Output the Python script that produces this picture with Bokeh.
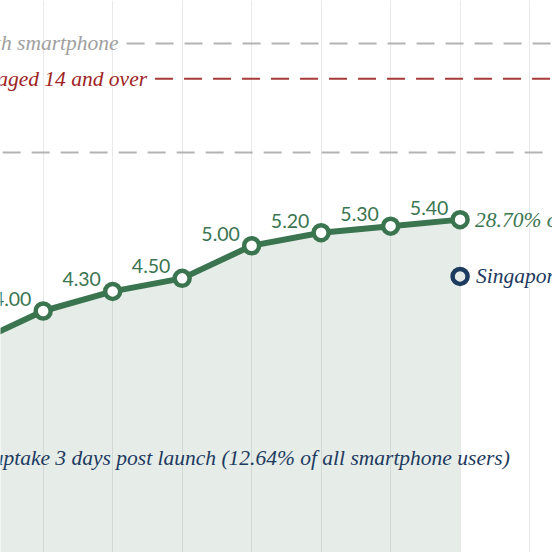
from bokeh.plotting import figure
from bokeh.models import Range1d, FixedTicker, Label
from bokeh.core.properties import value
from bokeh.embed import file_html
from bokeh.resources import INLINE

# data
idx = [0, 1, 2, 3, 4, 5, 6, 7]
users = [3.50, 4.00, 4.30, 4.50, 5.00, 5.20, 5.30, 5.40]
user_labels = ["3.50", "4.00", "4.30", "4.50", "5.00", "5.20", "5.30", "5.40"]

ref_names = ["Population with smartphone", "Residents aged 14 and over", ""]
ref_values = [8.10, 7.56, 6.43]
ref_start = [2.20, 2.61, 0.0]

singapore_value = 4.53
end_note = "28.70% of population"
singapore_note = "Singapore residents"
uptake_note = "TraceTogether uptake 3 days post launch (12.64% of all smartphone users)"

GREEN = "#3a7550"
NAVY = "#1d3a60"
RED = "#9e2424"
GREY = "#b3b3b3"
SERIF = "Liberation Serif"
SERIF_SIZE = "21.5px"

p = figure(width=552, height=552,
           x_range=Range1d(0.386, 8.330),
           y_range=Range1d(0.299, 8.758),
           output_backend="svg",
           toolbar_location=None,
           min_border=0)
p.xaxis.visible = False
p.yaxis.visible = False
p.ygrid.visible = False
p.xgrid.ticker = FixedTicker(ticks=list(range(0, 10)))
p.xgrid.grid_line_color = "#e9e9e9"
p.outline_line_color = None
p.background_fill_color = "white"

#reference lines
p.segment(x0=ref_start, y0=ref_values, x1=[9, 9, 8.55], y1=ref_values,
          line_color=[GREY, "#a83a3a", GREY], line_width=2,
          line_dash="18 11")
p.text(x=[s - 0.115 for s in ref_start[:2]], y=ref_values[:2],
       text=ref_names[:2],
       text_color=["#a0a0a0", RED],
       text_font=value(SERIF), text_font_style="italic",
       text_font_size=SERIF_SIZE,
       text_align="right", text_baseline="middle")

#area + line
p.varea(x=idx, y1=0, y2=users, fill_color=GREEN, fill_alpha=0.13)
p.line(idx, users, line_color=GREEN, line_width=6)
p.scatter(idx, users, size=15, fill_color="white",
          line_color=GREEN, line_width=4.5)
p.text(x=idx, y=users, text=user_labels,
       x_offset=-31, y_offset=-12,
       text_color=GREEN, text_font=value("Lato"), text_font_size="19.5px",
       text_align="center", text_baseline="middle")

p.add_layout(Label(x=idx[-1], y=users[-1], text=end_note,
                   x_offset=15, text_baseline="middle",
                   text_color=GREEN, text_font=SERIF,
                   text_font_style="italic", text_font_size=SERIF_SIZE))

#Singapore marker
p.scatter([idx[-1]], [singapore_value], size=15, fill_color="#e5ebe8",
          line_color=NAVY, line_width=4.5)
p.add_layout(Label(x=idx[-1], y=singapore_value, text=singapore_note,
                   x_offset=16, text_baseline="middle",
                   text_color=NAVY, text_font=SERIF,
                   text_font_style="italic", text_font_size=SERIF_SIZE))

p.add_layout(Label(x=7.716, y=1.75, text=uptake_note,
                   text_align="right", text_baseline="middle",
                   text_color=NAVY, text_font=SERIF,
                   text_font_style="italic", text_font_size=SERIF_SIZE))

open("out.html", "w").write(file_html(p, INLINE))
